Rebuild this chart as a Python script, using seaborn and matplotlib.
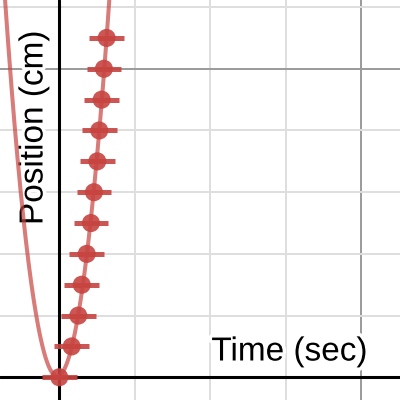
import numpy as np
import pandas as pd
import matplotlib
matplotlib.use("Agg")
import matplotlib.pyplot as plt
import matplotlib.patheffects as pe
from matplotlib.ticker import MultipleLocator
import seaborn as sns

# ---- data ----
time_sec = [0.0, 0.082, 0.126, 0.149, 0.182, 0.210, 0.230, 0.252, 0.265, 0.281, 0.296, 0.314]
position_cm = [0.0, 0.5, 1.0, 1.5, 2.0, 2.5, 3.0, 3.5, 4.0, 4.5, 5.0, 5.5]
time_err = [0.115] * 12
x_label = "Time (sec)"
y_label = "Position (cm)"

RED = "#c74440"

sns.set_theme(style="white")
plt.rcParams["font.family"] = ["Liberation Sans", "DejaVu Sans"]

fig = plt.figure(figsize=(4, 4), dpi=100)
ax = fig.add_axes([0, 0, 1, 1])

xmin, xmax = -0.393, 2.259
ymin, ymax = -0.368, 6.115
ax.set_xlim(xmin, xmax)
ax.set_ylim(ymin, ymax)

# grid
ax.xaxis.set_major_locator(MultipleLocator(2))
ax.xaxis.set_minor_locator(MultipleLocator(0.5))
ax.yaxis.set_major_locator(MultipleLocator(5))
ax.yaxis.set_minor_locator(MultipleLocator(1))
ax.grid(which="minor", color="#dedede", linewidth=1.4, zorder=0)
ax.grid(which="major", color="#9a9a9a", linewidth=1.4, zorder=0)
ax.set_axisbelow(True)
ax.tick_params(which="both", length=0, labelbottom=False, labelleft=False)
for s in ax.spines.values():
    s.set_visible(False)
ax.set_xlabel("")
ax.set_ylabel("")

ax.axhline(0, color="black", linewidth=2.2, zorder=1)
ax.axvline(0, color="black", linewidth=2.2, zorder=1)

# axis labels as text with white halo
halo = [pe.withStroke(linewidth=5, foreground="white")]
ax.text(0.724, 0.12, x_label, transform=ax.transAxes, fontsize=24,
        ha="center", va="center", color="black", zorder=2, path_effects=halo)
ax.text(0.085, 0.681, y_label, transform=ax.transAxes, fontsize=24,
        rotation=90, ha="center", va="center", color="black", zorder=2,
        path_effects=halo)

# quadratic regression curve
df = pd.DataFrame({"t": time_sec, "y": position_cm, "err": time_err})
coef = np.polyfit(df["t"], df["y"], 2)
tt = np.linspace(xmin, xmax, 800)
curve = pd.DataFrame({"t": tt, "y": np.polyval(coef, tt)})
sns.lineplot(data=curve, x="t", y="y", ax=ax, color=RED, alpha=0.7,
             linewidth=2.9, zorder=3, sort=False)

# error bars and points
ax.errorbar(df["t"], df["y"], xerr=df["err"], fmt="none", ecolor=RED,
            elinewidth=3.6, capsize=0, alpha=0.9, zorder=4)
sns.scatterplot(data=df, x="t", y="y", ax=ax, color=RED, s=170,
                edgecolor="none", alpha=0.9, zorder=5)

ax.set_xlim(xmin, xmax)
ax.set_ylim(ymin, ymax)
ax.set_xlabel("")
ax.set_ylabel("")
fig.savefig("out.png", dpi=100)
